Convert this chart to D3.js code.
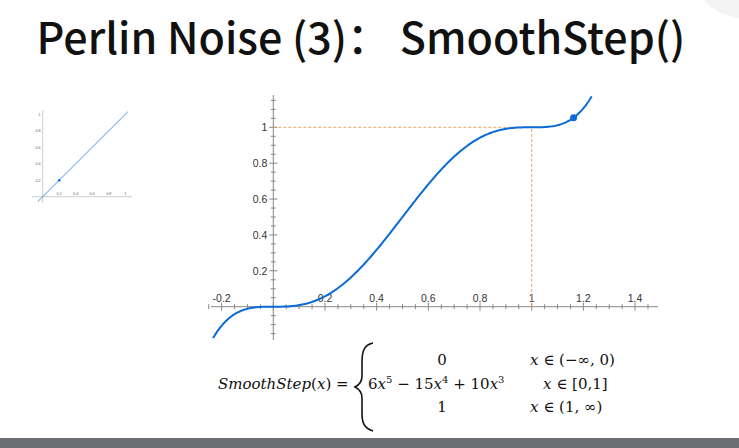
<!DOCTYPE html>
<html><head><meta charset="utf-8">
<script src="https://cdn.jsdelivr.net/npm/d3@7"></script>
<style>body{margin:0;background:#fff}svg{display:block}</style>
</head><body>
<svg id="svg" width="739" height="448"></svg>
<script>
// smoothstep polynomial coefficients: 6x^5 - 15x^4 + 10x^3
const coeffs = [6, -15, 10];
const curveDomain = [-0.233, 1.236];
const marker = 1.162;
const xTicks = [-0.2, 0.2, 0.4, 0.6, 0.8, 1, 1.2, 1.4];
const yTicks = [0.2, 0.4, 0.6, 0.8, 1];
const smallTicks = [0.2, 0.4, 0.6, 0.8, 1];
const smallLine = [-0.06, 1.03];
const smallMarker = 0.2;

const f = x => coeffs[0] * x ** 5 + coeffs[1] * x ** 4 + coeffs[2] * x ** 3;
const svg = d3.select('#svg');
const blue = '#0a6ad6';

// decoration
svg.append('circle').attr('cx', 745).attr('cy', -40).attr('r', 58).attr('fill', '#f3f3f3');
svg.append('rect').attr('x', 0).attr('y', 438).attr('width', 739).attr('height', 10).attr('fill', '#6c6e73');
svg.append('text').attr('x', 361).attr('y', 54).attr('text-anchor', 'middle')
  .attr('font-family', 'Noto Sans CJK SC, Noto Sans').attr('font-size', 43).attr('font-weight', 500).attr('fill', '#111')
  .text('Perlin Noise (3)： SmoothStep()');

// main chart
const x = d3.scaleLinear().domain([0, 1]).range([273.3, 531.7]);
const y = d3.scaleLinear().domain([0, 1]).range([306.7, 127.3]);
const g = svg.append('g').attr('font-family', 'Arial, Liberation Sans').attr('font-size', 10.5).attr('fill', '#333');
const axisCol = '#888';
g.append('line').attr('x1', 211).attr('x2', 658).attr('y1', y(0)).attr('y2', y(0)).attr('stroke', axisCol);
g.append('line').attr('x1', x(0)).attr('x2', x(0)).attr('y1', 95).attr('y2', 340).attr('stroke', axisCol);
d3.range(-0.25, 1.451, 0.05).forEach(v => {
  const major = Math.abs(Math.round(v * 5) - v * 5) < 1e-6;
  g.append('line').attr('x1', x(v)).attr('x2', x(v)).attr('y1', y(0) - (major ? 4 : 2.5)).attr('y2', y(0) + (major ? 4 : 2.5)).attr('stroke', axisCol);
});
d3.range(-0.15, 1.2, 0.05).forEach(v => {
  const major = Math.abs(Math.round(v * 5) - v * 5) < 1e-6;
  g.append('line').attr('y1', y(v)).attr('y2', y(v)).attr('x1', x(0) - (major ? 4 : 2.5)).attr('x2', x(0) + (major ? 4 : 2.5)).attr('stroke', axisCol);
});
g.selectAll('.xl').data(xTicks).join('text').attr('x', d => x(d)).attr('y', y(0) - 5).attr('text-anchor', 'middle').text(d => d);
g.selectAll('.yl').data(yTicks).join('text').attr('x', x(0) - 6).attr('y', d => y(d) + 4).attr('text-anchor', 'end').text(d => d);
// guides
g.append('path').attr('d', `M${x(0)},${y(1)}H${x(1)}V${y(0)}`).attr('fill', 'none')
  .attr('stroke', '#e39a50').attr('stroke-dasharray', '3,2').attr('stroke-width', 0.9);
const pts = d3.range(curveDomain[0], curveDomain[1] + 1e-9, 0.005).map(v => [v, f(v)]);
g.append('path').datum(pts).attr('d', d3.line().x(d => x(d[0])).y(d => y(d[1])))
  .attr('fill', 'none').attr('stroke', blue).attr('stroke-width', 2);
g.append('circle').attr('cx', x(marker)).attr('cy', y(f(marker))).attr('r', 3.5).attr('fill', blue);

// small chart
const sx = d3.scaleLinear().domain([0, 1]).range([42.7, 125.3]);
const sy = d3.scaleLinear().domain([0, 1]).range([196.7, 114.3]);
const s = svg.append('g').attr('font-family', 'Arial').attr('font-size', 3.8).attr('fill', '#666');
s.append('line').attr('x1', 32).attr('x2', 132).attr('y1', sy(0)).attr('y2', sy(0)).attr('stroke', '#aaa').attr('stroke-width', 0.6);
s.append('line').attr('x1', sx(0)).attr('x2', sx(0)).attr('y1', 110).attr('y2', 203).attr('stroke', '#aaa').attr('stroke-width', 0.6);
s.selectAll('.a').data(smallTicks).join('text').attr('x', d => sx(d)).attr('y', sy(0) - 2).attr('text-anchor', 'middle').text(d => d);
s.selectAll('.b').data(smallTicks).join('text').attr('x', sx(0) - 2).attr('y', d => sy(d) + 1.5).attr('text-anchor', 'end').text(d => d);
s.append('line').attr('x1', sx(smallLine[0])).attr('y1', sy(smallLine[0])).attr('x2', sx(smallLine[1])).attr('y2', sy(smallLine[1]))
  .attr('stroke', '#4a96e6').attr('stroke-width', 1);
s.append('circle').attr('cx', sx(smallMarker)).attr('cy', sy(smallMarker)).attr('r', 1.3).attr('fill', blue);

// formula
const fm = svg.append('g').attr('font-family', 'DejaVu Serif, Liberation Serif').attr('font-size', 15).attr('fill', '#111');
const lhs = fm.append('text').attr('x', 218).attr('y', 389);
lhs.append('tspan').attr('font-style', 'italic').text('SmoothStep');
lhs.append('tspan').text('(');
lhs.append('tspan').attr('font-style', 'italic').text('x');
lhs.append('tspan').text(') =');
fm.append('path').attr('d', 'M373,343 C363,345 362,353 362,363 L362,376 C362,382 359,385 355,387 C359,389 362,392 362,398 L362,413 C362,423 364,428 373,431')
  .attr('fill', 'none').attr('stroke', '#111').attr('stroke-width', 1.6);
fm.append('text').attr('x', 442).attr('y', 365).attr('text-anchor', 'middle').text('0');
const mid = fm.append('text').attr('x', 368).attr('y', 389);
mid.append('tspan').text('6');
mid.append('tspan').attr('font-style', 'italic').text('x');
mid.append('tspan').attr('font-size', 10).attr('dy', -6).text('5');
mid.append('tspan').attr('dy', 6).text(' − 15');
mid.append('tspan').attr('font-style', 'italic').text('x');
mid.append('tspan').attr('font-size', 10).attr('dy', -6).text('4');
mid.append('tspan').attr('dy', 6).text(' + 10');
mid.append('tspan').attr('font-style', 'italic').text('x');
mid.append('tspan').attr('font-size', 10).attr('dy', -6).text('3');
fm.append('text').attr('x', 442).attr('y', 412).attr('text-anchor', 'middle').text('1');
[['(−∞, 0)', 365, 530], ['[0,1]', 389, 543], ['(1, ∞)', 412, 530]].forEach(([t, yy, xx]) => {
  const tx = fm.append('text').attr('x', xx).attr('y', yy);
  tx.append('tspan').attr('font-style', 'italic').text('x');
  tx.append('tspan').text(' ∈ ' + t);
});
</script>
</body></html>
